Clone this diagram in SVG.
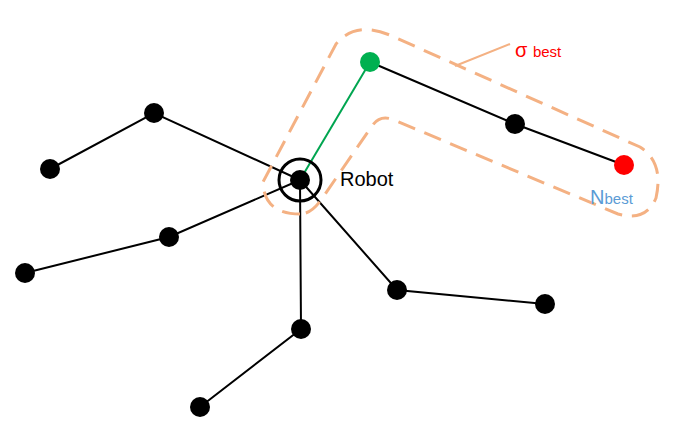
<svg xmlns="http://www.w3.org/2000/svg" width="675" height="429" viewBox="0 0 675 429">
<style>
.e{stroke:#000;stroke-width:2;fill:none}
.n{fill:#000}
text{font-family:"Liberation Sans",Calibri,sans-serif}
</style>
<rect width="675" height="429" fill="#fff"/>
<g id="connectors">
<path class="e" d="M300,180L154,113L50,169M300,180L169,237L25,273M300,180L301,329L200,407M300,180L397,290L545,304M370,62L515,124L624,165"/>
<line x1="300" y1="180" x2="370" y2="62" stroke="#00a550" stroke-width="2"/>
<path d="M300,214 Q264,214 263,182 L336,44 Q356,20 392,36 L640,147 Q664,162 656,198 Q646,222 618,214 L394,120 Q380,114 372,126 L321,200 Q311,214 300,214 Z" fill="none" stroke="#f4b183" stroke-width="3" stroke-dasharray="18,10"/>
<line x1="455" y1="66" x2="510" y2="44" stroke="#f4b183" stroke-width="2"/>
</g>
<g id="robot"><circle cx="300" cy="180" r="21" fill="none" stroke="#000" stroke-width="3"/><circle cx="300" cy="180" r="10" class="n"/><text x="340" y="186" font-size="20">Robot</text></g>
<g id="n1"><circle cx="370" cy="62" r="10" fill="#00b050"/></g>
<g id="n2"><circle cx="515" cy="124" r="10" class="n"/></g>
<g id="n3"><circle cx="624" cy="165" r="10" fill="#f00"/></g>
<g id="n4"><circle cx="154" cy="113" r="10" class="n"/></g>
<g id="n5"><circle cx="50" cy="169" r="10" class="n"/></g>
<g id="n6"><circle cx="169" cy="237" r="10" class="n"/></g>
<g id="n7"><circle cx="25" cy="273" r="10" class="n"/></g>
<g id="n8"><circle cx="301" cy="329" r="10" class="n"/></g>
<g id="n9"><circle cx="200" cy="407" r="10" class="n"/></g>
<g id="n10"><circle cx="397" cy="290" r="10" class="n"/></g>
<g id="n11"><circle cx="545" cy="304" r="10" class="n"/></g>
<g id="labels">
<text x="515" y="57" fill="#f00" font-size="20">σ <tspan font-size="15">best</tspan></text>
<text x="590" y="204" fill="#5b9bd5" font-size="20">N<tspan font-size="15">best</tspan></text>
</g>
</svg>
